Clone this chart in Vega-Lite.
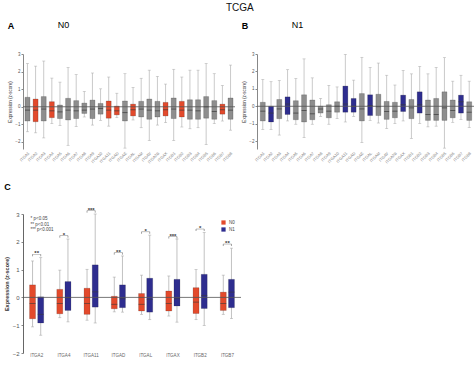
{
  "$schema": "https://vega.github.io/schema/vega-lite/v6.json",
  "padding": {"left": 4, "right": 2, "top": 3, "bottom": 2},
  "title": {"text": "TCGA", "fontSize": 10, "fontWeight": "normal", "font": "Liberation Sans", "anchor": "middle", "offset": 8, "color": "#111"},
  "spacing": 18,
  "resolve": {"scale": {"x": "independent", "y": "independent", "color": "independent", "shape": "independent", "xOffset": "independent"}},
  "config": {
    "font": "Liberation Sans",
    "view": {"stroke": null},
    "axis": {"grid": false, "domainColor": "#888", "tickColor": "#888", "labelColor": "#555", "titleColor": "#333", "labelFont": "Liberation Sans", "titleFont": "Liberation Sans", "labelOverlap": false, "labelFlush": false},
    "axisQuantitative": {"tickCount": 6},
    "title": {"font": "Liberation Sans", "color": "#111"}
  },
  "datasets": {
    "a": [
      {"gene": "ITGA1", "cat": "base", "max": 2.46, "q3": 0.54, "med": -0.19, "q1": -0.81, "min": -1.42},
      {"gene": "ITGA2", "cat": "hl", "max": 2.31, "q3": 0.44, "med": -0.19, "q1": -0.85, "min": -1.48},
      {"gene": "ITGA3", "cat": "base", "max": 2.6, "q3": 0.58, "med": -0.13, "q1": -0.81, "min": -1.77},
      {"gene": "ITGA4", "cat": "hl", "max": 1.63, "q3": 0.29, "med": -0.23, "q1": -0.62, "min": -0.96},
      {"gene": "ITGA5", "cat": "base", "max": 1.4, "q3": 0.1, "med": -0.29, "q1": -0.67, "min": -1.06},
      {"gene": "ITGA6", "cat": "base", "max": 2.23, "q3": 0.48, "med": -0.19, "q1": -0.75, "min": -2.19},
      {"gene": "ITGA7", "cat": "base", "max": 1.83, "q3": 0.35, "med": -0.23, "q1": -0.67, "min": -1.13},
      {"gene": "ITGA8", "cat": "base", "max": 0.87, "q3": 0.21, "med": -0.19, "q1": -0.38, "min": -0.58},
      {"gene": "ITGA9", "cat": "base", "max": 1.92, "q3": 0.38, "med": -0.13, "q1": -0.67, "min": -1.04},
      {"gene": "ITGA10", "cat": "base", "max": 1.02, "q3": 0.19, "med": -0.1, "q1": -0.42, "min": -0.77},
      {"gene": "ITGA11", "cat": "hl", "max": 1.69, "q3": 0.33, "med": -0.19, "q1": -0.65, "min": -1.1},
      {"gene": "ITGAD", "cat": "hl", "max": 0.77, "q3": 0.04, "med": -0.23, "q1": -0.46, "min": -0.62},
      {"gene": "ITGAE", "cat": "base", "max": 1.88, "q3": 0.33, "med": -0.33, "q1": -0.81, "min": -2.35},
      {"gene": "ITGAL", "cat": "hl", "max": 1.1, "q3": 0.15, "med": -0.17, "q1": -0.52, "min": -0.75},
      {"gene": "ITGAM", "cat": "base", "max": 1.62, "q3": 0.31, "med": -0.13, "q1": -0.58, "min": -1.19},
      {"gene": "ITGAV", "cat": "base", "max": 2.08, "q3": 0.44, "med": -0.19, "q1": -0.71, "min": -1.92},
      {"gene": "ITGA2B", "cat": "base", "max": 1.73, "q3": 0.31, "med": -0.23, "q1": -0.58, "min": -1.04},
      {"gene": "ITGAX", "cat": "hl", "max": 1.29, "q3": 0.25, "med": -0.17, "q1": -0.52, "min": -0.9},
      {"gene": "ITGB1", "cat": "base", "max": 2.13, "q3": 0.5, "med": -0.13, "q1": -0.67, "min": -1.92},
      {"gene": "ITGB2", "cat": "hl", "max": 1.69, "q3": 0.31, "med": -0.19, "q1": -0.58, "min": -1.15},
      {"gene": "ITGB3", "cat": "base", "max": 2.08, "q3": 0.4, "med": -0.19, "q1": -0.71, "min": -1.25},
      {"gene": "ITGB4", "cat": "base", "max": 2.08, "q3": 0.4, "med": -0.23, "q1": -0.71, "min": -1.19},
      {"gene": "ITGB5", "cat": "base", "max": 2.46, "q3": 0.58, "med": 0.0, "q1": -0.65, "min": -2.15},
      {"gene": "ITGB6", "cat": "base", "max": 1.88, "q3": 0.35, "med": -0.27, "q1": -0.71, "min": -0.96},
      {"gene": "ITGB7", "cat": "hl", "max": 1.21, "q3": 0.15, "med": -0.17, "q1": -0.42, "min": -0.81},
      {"gene": "ITGB8", "cat": "base", "max": 2.37, "q3": 0.5, "med": -0.19, "q1": -0.71, "min": -1.33}
    ],
    "b": [
      {"gene": "ITGA1", "cat": "base", "max": 1.54, "q3": 0.23, "med": -0.28, "q1": -0.84, "min": -1.33},
      {"gene": "ITGA2", "cat": "hl", "max": 1.41, "q3": 0.0, "med": -0.39, "q1": -0.9, "min": -1.33},
      {"gene": "ITGA3", "cat": "base", "max": 1.48, "q3": 0.39, "med": -0.15, "q1": -0.71, "min": -1.65},
      {"gene": "ITGA4", "cat": "hl", "max": 2.1, "q3": 0.54, "med": 0.13, "q1": -0.47, "min": -0.84},
      {"gene": "ITGA5", "cat": "base", "max": 1.59, "q3": 0.32, "med": -0.39, "q1": -0.77, "min": -1.03},
      {"gene": "ITGA6", "cat": "base", "max": 2.72, "q3": 0.66, "med": -0.24, "q1": -0.9, "min": -1.8},
      {"gene": "ITGA7", "cat": "base", "max": 1.63, "q3": 0.36, "med": -0.43, "q1": -0.77, "min": -1.03},
      {"gene": "ITGA8", "cat": "base", "max": 0.45, "q3": 0.0, "med": -0.15, "q1": -0.39, "min": -0.58},
      {"gene": "ITGA9", "cat": "base", "max": 1.2, "q3": 0.09, "med": -0.28, "q1": -0.66, "min": -1.03},
      {"gene": "ITGA10", "cat": "base", "max": 1.11, "q3": 0.26, "med": 0.0, "q1": -0.34, "min": -0.71},
      {"gene": "ITGA11", "cat": "hl", "max": 2.98, "q3": 1.16, "med": 0.13, "q1": -0.34, "min": -0.9},
      {"gene": "ITGAD", "cat": "hl", "max": 1.5, "q3": 0.45, "med": 0.0, "q1": -0.34, "min": -0.58},
      {"gene": "ITGAE", "cat": "base", "max": 2.81, "q3": 0.73, "med": -0.15, "q1": -0.84, "min": -2.08},
      {"gene": "ITGAL", "cat": "hl", "max": 2.23, "q3": 0.66, "med": 0.04, "q1": -0.53, "min": -0.81},
      {"gene": "ITGAM", "cat": "base", "max": 2.48, "q3": 0.69, "med": -0.02, "q1": -0.53, "min": -0.96},
      {"gene": "ITGAV", "cat": "base", "max": 1.78, "q3": 0.28, "med": -0.3, "q1": -0.75, "min": -1.28},
      {"gene": "ITGA2B", "cat": "base", "max": 1.22, "q3": 0.23, "med": -0.28, "q1": -0.66, "min": -0.99},
      {"gene": "ITGAX", "cat": "hl", "max": 2.06, "q3": 0.64, "med": 0.09, "q1": -0.3, "min": -0.84},
      {"gene": "ITGB1", "cat": "base", "max": 1.86, "q3": 0.39, "med": -0.09, "q1": -0.71, "min": -1.84},
      {"gene": "ITGB2", "cat": "hl", "max": 2.29, "q3": 0.83, "med": 0.09, "q1": -0.39, "min": -0.99},
      {"gene": "ITGB3", "cat": "base", "max": 1.86, "q3": 0.36, "med": -0.47, "q1": -0.81, "min": -1.18},
      {"gene": "ITGB4", "cat": "base", "max": 2.23, "q3": 0.45, "med": -0.47, "q1": -0.81, "min": -1.14},
      {"gene": "ITGB5", "cat": "base", "max": 2.79, "q3": 0.83, "med": -0.09, "q1": -0.81, "min": -2.4},
      {"gene": "ITGB6", "cat": "base", "max": 1.44, "q3": 0.36, "med": -0.24, "q1": -0.66, "min": -0.92},
      {"gene": "ITGB7", "cat": "hl", "max": 1.78, "q3": 0.64, "med": 0.26, "q1": -0.39, "min": -0.75},
      {"gene": "ITGB8", "cat": "base", "max": 1.44, "q3": 0.26, "med": -0.34, "q1": -0.81, "min": -1.22}
    ],
    "c": [
      {"gene": "ITGA2", "grp": "N0", "max": 1.31, "q3": 0.45, "med": -0.22, "q1": -0.77, "min": -1.06, "sig": "**", "br": 1.55},
      {"gene": "ITGA2", "grp": "N1", "max": 1.43, "q3": 0.02, "med": -0.61, "q1": -0.92, "min": -1.36, "sig": "**", "br": 1.55},
      {"gene": "ITGA4", "grp": "N0", "max": 0.98, "q3": 0.29, "med": -0.22, "q1": -0.59, "min": -0.73, "sig": "*", "br": 2.22},
      {"gene": "ITGA4", "grp": "N1", "max": 2.1, "q3": 0.57, "med": -0.01, "q1": -0.47, "min": -0.88, "sig": "*", "br": 2.22},
      {"gene": "ITGA11", "grp": "N0", "max": 1.01, "q3": 0.33, "med": -0.22, "q1": -0.61, "min": -0.82, "sig": "***", "br": 3.12},
      {"gene": "ITGA11", "grp": "N1", "max": 3.0, "q3": 1.17, "med": 0.2, "q1": -0.35, "min": -0.92, "sig": "***", "br": 3.12},
      {"gene": "ITGAD", "grp": "N0", "max": 0.73, "q3": 0.04, "med": -0.25, "q1": -0.41, "min": -0.52, "sig": "**", "br": 1.61},
      {"gene": "ITGAD", "grp": "N1", "max": 1.49, "q3": 0.45, "med": -0.05, "q1": -0.37, "min": -0.53, "sig": "**", "br": 1.61},
      {"gene": "ITGAL", "grp": "N0", "max": 0.8, "q3": 0.14, "med": -0.25, "q1": -0.49, "min": -0.61, "sig": "*", "br": 2.36},
      {"gene": "ITGAL", "grp": "N1", "max": 2.24, "q3": 0.69, "med": -0.07, "q1": -0.53, "min": -0.8, "sig": "*", "br": 2.36},
      {"gene": "ITGAX", "grp": "N0", "max": 0.77, "q3": 0.23, "med": -0.22, "q1": -0.49, "min": -0.67, "sig": "***", "br": 2.19},
      {"gene": "ITGAX", "grp": "N1", "max": 2.1, "q3": 0.65, "med": -0.05, "q1": -0.31, "min": -0.89, "sig": "***", "br": 2.19},
      {"gene": "ITGB2", "grp": "N0", "max": 1.0, "q3": 0.35, "med": -0.17, "q1": -0.58, "min": -0.8, "sig": "*", "br": 2.46},
      {"gene": "ITGB2", "grp": "N1", "max": 2.34, "q3": 0.83, "med": 0.07, "q1": -0.4, "min": -1.01, "sig": "*", "br": 2.46},
      {"gene": "ITGB7", "grp": "N0", "max": 0.8, "q3": 0.19, "med": -0.22, "q1": -0.47, "min": -0.61, "sig": "**", "br": 1.92},
      {"gene": "ITGB7", "grp": "N1", "max": 1.77, "q3": 0.65, "med": 0.19, "q1": -0.37, "min": -0.76, "sig": "**", "br": 1.92}
    ],
    "pleg": [
      {"p": "* p<0.05"},
      {"p": "** p<0.01"},
      {"p": "*** p<0.001"}
    ]
  },
  "vconcat": [
    {
      "spacing": 5,
      "resolve": {"scale": {"x": "independent", "y": "independent", "color": "independent"}},
      "hconcat": [
        {
          "title": {"text": "A", "anchor": "start", "fontSize": 9, "fontWeight": "bold", "offset": -10, "color": "#000"},
          "vconcat": [
            {
              "title": {"text": "N0", "anchor": "start", "fontSize": 9, "fontWeight": "normal", "dx": 50, "offset": 21, "color": "#000"},
              "vconcat": [
                {
                  "width": 212,
                  "height": 95,
                  "layer": [
                    {
                      "data": {"name": "a"},
                      "encoding": {
                        "x": {"field": "gene", "type": "nominal", "sort": null, "title": null, "scale": {"paddingOuter": 0.2, "paddingInner": 0.3}, "axis": {"labelAngle": -45, "labelFontSize": 4, "labelColor": "#777", "ticks": false, "domain": false, "labelPadding": 2}}
                      },
                      "layer": [
                        {"mark": {"type": "rule", "color": "#b3b3b3", "strokeWidth": 0.7},
                         "encoding": {"y": {"field": "min", "type": "quantitative", "title": "Expression (z-score)", "scale": {"domain": [-2.4, 3], "nice": false, "zero": false}, "axis": {"values": [-2, -1, 0, 1, 2, 3], "tickCount": 6, "labelOverlap": false, "labelFontSize": 4.5, "titleFontSize": 4.5, "titleFontWeight": "normal", "tickSize": 2, "labelPadding": 1, "titlePadding": 2}}, "y2": {"field": "max"}}},
                        {"mark": {"type": "tick", "color": "#a8a8a8", "size": 3, "thickness": 0.7},
                         "encoding": {"y": {"field": "max", "type": "quantitative", "title": "Expression (z-score)", "axis": {"values": [-2, -1, 0, 1, 2, 3], "tickCount": 6, "labelOverlap": false, "labelFontSize": 4.5, "titleFontSize": 4.5, "titleFontWeight": "normal", "tickSize": 2, "labelPadding": 1, "titlePadding": 2}}}},
                        {"mark": {"type": "tick", "color": "#a8a8a8", "size": 3, "thickness": 0.7},
                         "encoding": {"y": {"field": "min", "type": "quantitative", "title": "Expression (z-score)", "axis": {"values": [-2, -1, 0, 1, 2, 3], "tickCount": 6, "labelOverlap": false, "labelFontSize": 4.5, "titleFontSize": 4.5, "titleFontWeight": "normal", "tickSize": 2, "labelPadding": 1, "titlePadding": 2}}}},
                        {"mark": {"type": "bar", "size": 5, "stroke": "rgba(0,0,0,0.35)", "strokeWidth": 0.5},
                         "encoding": {"y": {"field": "q1", "type": "quantitative", "title": "Expression (z-score)", "axis": {"values": [-2, -1, 0, 1, 2, 3], "tickCount": 6, "labelOverlap": false, "labelFontSize": 4.5, "titleFontSize": 4.5, "titleFontWeight": "normal", "tickSize": 2, "labelPadding": 1, "titlePadding": 2}}, "y2": {"field": "q3"},
                           "color": {"field": "cat", "type": "nominal", "scale": {"domain": ["base", "hl"], "range": ["#8e8e8e", "#e34a2c"]}, "legend": null}}},
                        {"mark": {"type": "tick", "color": "#3a3a3a", "size": 5, "thickness": 1, "opacity": 0.7},
                         "encoding": {"y": {"field": "med", "type": "quantitative", "title": "Expression (z-score)", "axis": {"values": [-2, -1, 0, 1, 2, 3], "tickCount": 6, "labelOverlap": false, "labelFontSize": 4.5, "titleFontSize": 4.5, "titleFontWeight": "normal", "tickSize": 2, "labelPadding": 1, "titlePadding": 2}}}}
                      ]
                    },
                    {"data": {"values": [{}]}, "mark": {"type": "rule", "color": "#555", "strokeWidth": 0.8}, "encoding": {"y": {"datum": 0}}}
                  ]
                }
              ]
            }
          ]
        },
        {
          "title": {"text": "B", "anchor": "start", "fontSize": 9, "fontWeight": "bold", "offset": -10, "color": "#000"},
          "vconcat": [
            {
              "title": {"text": "N1", "anchor": "start", "fontSize": 9, "fontWeight": "normal", "dx": 50, "offset": 21, "color": "#000"},
              "vconcat": [
                {
                  "width": 218,
                  "height": 95,
                  "layer": [
                    {
                      "data": {"name": "b"},
                      "encoding": {
                        "x": {"field": "gene", "type": "nominal", "sort": null, "title": null, "scale": {"paddingOuter": 0.35, "paddingInner": 0.3}, "axis": {"labelAngle": -45, "labelFontSize": 4, "labelColor": "#777", "ticks": false, "domain": false, "labelPadding": 2}}
                      },
                      "layer": [
                        {"mark": {"type": "rule", "color": "#b3b3b3", "strokeWidth": 0.7},
                         "encoding": {"y": {"field": "min", "type": "quantitative", "title": "Expression (z-score)", "scale": {"domain": [-2.45, 3], "nice": false, "zero": false}, "axis": {"values": [-2, -1, 0, 1, 2, 3], "tickCount": 6, "labelOverlap": false, "labelFontSize": 4.5, "titleFontSize": 4.5, "titleFontWeight": "normal", "tickSize": 2, "labelPadding": 1, "titlePadding": 2}}, "y2": {"field": "max"}}},
                        {"mark": {"type": "tick", "color": "#a8a8a8", "size": 3, "thickness": 0.7},
                         "encoding": {"y": {"field": "max", "type": "quantitative", "title": "Expression (z-score)", "axis": {"values": [-2, -1, 0, 1, 2, 3], "tickCount": 6, "labelOverlap": false, "labelFontSize": 4.5, "titleFontSize": 4.5, "titleFontWeight": "normal", "tickSize": 2, "labelPadding": 1, "titlePadding": 2}}}},
                        {"mark": {"type": "tick", "color": "#a8a8a8", "size": 3, "thickness": 0.7},
                         "encoding": {"y": {"field": "min", "type": "quantitative", "title": "Expression (z-score)", "axis": {"values": [-2, -1, 0, 1, 2, 3], "tickCount": 6, "labelOverlap": false, "labelFontSize": 4.5, "titleFontSize": 4.5, "titleFontWeight": "normal", "tickSize": 2, "labelPadding": 1, "titlePadding": 2}}}},
                        {"mark": {"type": "bar", "size": 5, "stroke": "rgba(0,0,0,0.35)", "strokeWidth": 0.5},
                         "encoding": {"y": {"field": "q1", "type": "quantitative", "title": "Expression (z-score)", "axis": {"values": [-2, -1, 0, 1, 2, 3], "tickCount": 6, "labelOverlap": false, "labelFontSize": 4.5, "titleFontSize": 4.5, "titleFontWeight": "normal", "tickSize": 2, "labelPadding": 1, "titlePadding": 2}}, "y2": {"field": "q3"},
                           "color": {"field": "cat", "type": "nominal", "scale": {"domain": ["base", "hl"], "range": ["#8e8e8e", "#2e2d8f"]}, "legend": null}}},
                        {"mark": {"type": "tick", "color": "#3a3a3a", "size": 5, "thickness": 1, "opacity": 0.7},
                         "encoding": {"y": {"field": "med", "type": "quantitative", "title": "Expression (z-score)", "axis": {"values": [-2, -1, 0, 1, 2, 3], "tickCount": 6, "labelOverlap": false, "labelFontSize": 4.5, "titleFontSize": 4.5, "titleFontWeight": "normal", "tickSize": 2, "labelPadding": 1, "titlePadding": 2}}}}
                      ]
                    },
                    {"data": {"values": [{}]}, "mark": {"type": "rule", "color": "#555", "strokeWidth": 0.8}, "encoding": {"y": {"datum": 0}}}
                  ]
                }
              ]
            }
          ]
        }
      ]
    },
    {
      "width": 218,
      "height": 139,
      "title": {"text": "C", "anchor": "start", "fontSize": 9, "fontWeight": "bold", "offset": 15, "color": "#000"},
      "resolve": {"scale": {"shape": "independent", "color": "independent"}, "legend": {"shape": "independent", "color": "independent"}},
      "layer": [
        {
          "data": {"name": "c"},
          "encoding": {
            "x": {"field": "gene", "type": "nominal", "sort": null, "title": null, "scale": {"paddingOuter": 0.2, "paddingInner": 0.4}, "axis": {"labelAngle": 0, "labelFontSize": 4.5, "labelColor": "#666", "ticks": false, "domain": false, "labelPadding": -1}}
          },
          "layer": [
            {"mark": {"type": "rule", "color": "#b3b3b3", "strokeWidth": 0.8},
             "encoding": {"xOffset": {"field": "grp", "type": "nominal", "scale": {"paddingInner": 0, "paddingOuter": 0}},
               "y": {"field": "min", "type": "quantitative", "title": "Expression (z-score)", "scale": {"domain": [-2, 3], "nice": false, "zero": false}, "axis": {"values": [-2, -1, 0, 1, 2, 3], "tickCount": 6, "labelOverlap": false, "labelFontSize": 6, "titleFontSize": 5.5, "titleFontWeight": "bold", "tickSize": 2, "labelPadding": 2, "titlePadding": 3, "domainColor": "#666"}}, "y2": {"field": "max"}}},
            {"mark": {"type": "tick", "color": "#a8a8a8", "size": 3, "thickness": 0.8},
             "encoding": {"xOffset": {"field": "grp", "type": "nominal"}, "y": {"field": "max", "type": "quantitative", "title": "Expression (z-score)", "axis": {"values": [-2, -1, 0, 1, 2, 3], "tickCount": 6, "labelOverlap": false, "labelFontSize": 6, "titleFontSize": 5.5, "titleFontWeight": "bold", "tickSize": 2, "labelPadding": 2, "titlePadding": 3, "domainColor": "#666"}}}},
            {"mark": {"type": "tick", "color": "#a8a8a8", "size": 3, "thickness": 0.8},
             "encoding": {"xOffset": {"field": "grp", "type": "nominal"}, "y": {"field": "min", "type": "quantitative", "title": "Expression (z-score)", "axis": {"values": [-2, -1, 0, 1, 2, 3], "tickCount": 6, "labelOverlap": false, "labelFontSize": 6, "titleFontSize": 5.5, "titleFontWeight": "bold", "tickSize": 2, "labelPadding": 2, "titlePadding": 3, "domainColor": "#666"}}}},
            {"mark": {"type": "bar", "size": 6, "stroke": "rgba(0,0,0,0.3)", "strokeWidth": 0.5},
             "encoding": {"xOffset": {"field": "grp", "type": "nominal"}, "y": {"field": "q1", "type": "quantitative", "title": "Expression (z-score)", "axis": {"values": [-2, -1, 0, 1, 2, 3], "tickCount": 6, "labelOverlap": false, "labelFontSize": 6, "titleFontSize": 5.5, "titleFontWeight": "bold", "tickSize": 2, "labelPadding": 2, "titlePadding": 3, "domainColor": "#666"}}, "y2": {"field": "q3"},
               "color": {"field": "grp", "type": "nominal", "scale": {"domain": ["N0", "N1"], "range": ["#e34a2c", "#2e2d8f"]},
                 "legend": {"title": null, "orient": "top-right", "offset": 6, "symbolType": "square", "symbolSize": 18, "labelFontSize": 4.5, "labelColor": "#444", "rowPadding": 1, "symbolStrokeWidth": 0, "labelOffset": 3}}}},
            {"mark": {"type": "tick", "color": "#3a3a3a", "size": 6, "thickness": 1, "opacity": 0.6},
             "encoding": {"xOffset": {"field": "grp", "type": "nominal"}, "y": {"field": "med", "type": "quantitative", "title": "Expression (z-score)", "axis": {"values": [-2, -1, 0, 1, 2, 3], "tickCount": 6, "labelOverlap": false, "labelFontSize": 6, "titleFontSize": 5.5, "titleFontWeight": "bold", "tickSize": 2, "labelPadding": 2, "titlePadding": 3, "domainColor": "#666"}}}},
            {"mark": {"type": "rule", "color": "#666", "strokeWidth": 0.6, "y2Offset": 2},
             "encoding": {"xOffset": {"field": "grp", "type": "nominal"}, "y": {"field": "br", "type": "quantitative", "title": "Expression (z-score)", "axis": {"values": [-2, -1, 0, 1, 2, 3], "tickCount": 6, "labelOverlap": false, "labelFontSize": 6, "titleFontSize": 5.5, "titleFontWeight": "bold", "tickSize": 2, "labelPadding": 2, "titlePadding": 3, "domainColor": "#666"}}, "y2": {"field": "br"}}},
            {"transform": [{"filter": "datum.grp === 'N0'"}],
             "mark": {"type": "tick", "color": "#666", "size": 8.2, "thickness": 0.6},
             "encoding": {"y": {"field": "br", "type": "quantitative", "title": "Expression (z-score)", "axis": {"values": [-2, -1, 0, 1, 2, 3], "tickCount": 6, "labelOverlap": false, "labelFontSize": 6, "titleFontSize": 5.5, "titleFontWeight": "bold", "tickSize": 2, "labelPadding": 2, "titlePadding": 3, "domainColor": "#666"}}}},
            {"transform": [{"filter": "datum.grp === 'N0'"}],
             "mark": {"type": "text", "fontSize": 6, "fontWeight": "bold", "color": "#333", "baseline": "alphabetic", "dy": 1},
             "encoding": {"y": {"field": "br", "type": "quantitative", "title": "Expression (z-score)", "axis": {"values": [-2, -1, 0, 1, 2, 3], "tickCount": 6, "labelOverlap": false, "labelFontSize": 6, "titleFontSize": 5.5, "titleFontWeight": "bold", "tickSize": 2, "labelPadding": 2, "titlePadding": 3, "domainColor": "#666"}}, "text": {"field": "sig"}}}
          ]
        },
        {"data": {"values": [{}]}, "mark": {"type": "rule", "color": "#555", "strokeWidth": 0.8}, "encoding": {"y": {"datum": 0}}},
        {"data": {"name": "pleg"}, "mark": {"type": "point", "opacity": 0},
         "encoding": {"shape": {"field": "p", "type": "nominal", "scale": {"domain": ["* p<0.05", "** p<0.01", "*** p<0.001"]},
           "legend": {"title": null, "orient": "top-left", "offset": 3, "symbolSize": 0, "symbolOpacity": 0, "labelFontSize": 4.5, "labelColor": "#444", "rowPadding": 0.5, "labelOffset": 0}}}}
      ]
    }
  ]
}
